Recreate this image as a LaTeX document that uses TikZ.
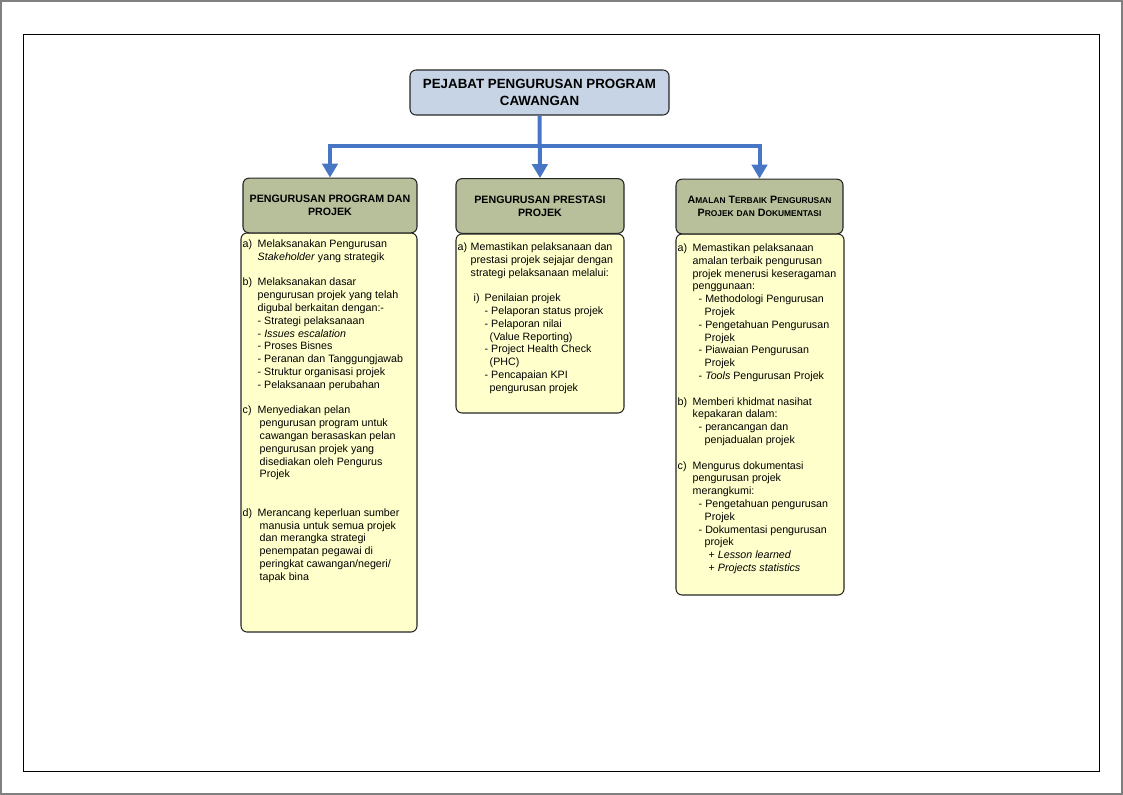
\documentclass[tikz,border=0pt]{standalone}
\usepackage{fontspec}
\setmainfont{Liberation Sans}
\usetikzlibrary{arrows.meta}
\definecolor{topblue}{RGB}{198,212,229}
\definecolor{headgreen}{RGB}{183,192,155}
\definecolor{bodyyellow}{RGB}{255,255,204}
\definecolor{arrowblue}{RGB}{71,119,196}
\newlength\pix
\setlength\pix{0.75pt}
\newcommand\lbl[2]{\makebox[#1\pix][l]{#2}}
\newcommand\ind[1]{\hspace*{#1\pix}}
\newcommand\fsc[2]{#1{\fontsize{6.3}{9.5}\selectfont #2}}

\begin{document}
\begin{tikzpicture}[x=0.75pt,y=-0.75pt,
  >={Triangle[length=10.5pt,width=11.5pt]},
  box/.style={draw=black!85, line width=0.8pt, rounded corners=4.5pt, inner sep=0pt},
  topbox/.style={box, fill=topblue, minimum width=194.25pt, minimum height=33.75pt,
    align=center, font=\bfseries\fontsize{10}{12.75}\selectfont},
  headbox/.style={box, fill=headgreen, minimum height=41pt,
    align=center, font=\bfseries\fontsize{8}{9.5}\selectfont},
  bodybox/.style={box, fill=bodyyellow},
  bodytext/.style={anchor=north west, inner sep=0pt, align=left,
    font=\fontsize{8}{9.6}\selectfont},
  conn/.style={arrowblue, line width=3pt}]
\useasboundingbox (0,0) rectangle (1123,795);
% frames
\draw [gray, line width=1.5pt] (1,1) rectangle (1121.5,793.5);
\draw [black, line width=0.75pt] (23.5,34.5) rectangle (1099.5,771);

% top
\node [topbox] (pejabat) at (539.5,92.5) {PEJABAT PENGURUSAN PROGRAM\\CAWANGAN};

% bodies first, headers over them
\node [bodybox, minimum width=132pt, minimum height=299.25pt] (body1) at (329,432.5) {};
\node [bodybox, minimum width=126pt, minimum height=134.25pt] (body2) at (540,323.5) {};
\node [bodybox, minimum width=126pt, minimum height=270.75pt] (body3) at (760,414.5) {};

\node [headbox, minimum width=130.5pt] (head1) at (330,205.5) {PENGURUSAN PROGRAM DAN\\PROJEK};
\node [headbox, minimum width=126pt] (head2) at (540,206) {PENGURUSAN PRESTASI\\PROJEK};
\node [headbox, minimum width=125.25pt] (head3) at (759.5,206.5)
  {\fsc{A}{MALAN} \fsc{T}{ERBAIK} \fsc{P}{ENGURUSAN}\\\fsc{P}{ROJEK} {\fontsize{6.3}{9.5}\selectfont DAN} \fsc{D}{OKUMENTASI}};

% connectors
\coordinate (split) at (540,146);
\draw [conn, ->] (pejabat.south) -- (head2.north);
\draw [conn, <->] (head1.north) -- (head1.north |- split) -- (head3.north |- split) -- (head3.north);

% texts
\node [bodytext] (text1) at ([shift={(2,7)}]body1.north west) {%
\lbl{15}{a)}Melaksanakan Pengurusan\\
\ind{15}\textit{Stakeholder} yang strategik\\[9.6pt]
\lbl{15}{b)}Melaksanakan dasar\\
\ind{15}pengurusan projek yang telah\\
\ind{15}digubal berkaitan dengan:-\\
\ind{15}- Strategi pelaksanaan\\
\ind{15}- \textit{Issues escalation}\\
\ind{15}- Proses Bisnes\\
\ind{15}- Peranan dan Tanggungjawab\\
\ind{15}- Struktur organisasi projek\\
\ind{15}- Pelaksanaan perubahan\\[9.6pt]
\lbl{15}{c)}Menyediakan pelan\\
\ind{17}pengurusan program untuk\\
\ind{17}cawangan berasaskan pelan\\
\ind{17}pengurusan projek yang\\
\ind{17}disediakan oleh Pengurus\\
\ind{17}Projek\\[19.2pt]
\lbl{15}{d)}Merancang keperluan sumber\\
\ind{17}manusia untuk semua projek\\
\ind{17}dan merangka strategi\\
\ind{17}penempatan pegawai di\\
\ind{17}peringkat cawangan/negeri/\\
\ind{17}tapak bina};

\node [bodytext] (text2) at ([shift={(2,9)}]body2.north west) {%
\lbl{13}{a)}Memastikan pelaksanaan dan\\
\ind{13}prestasi projek sejajar dengan\\
\ind{13}strategi pelaksanaan melalui:\\[9.6pt]
\ind{16}\lbl{11}{i)}Penilaian projek\\
\ind{27}- Pelaporan status projek\\
\ind{27}- Pelaporan nilai\\
\ind{32}(Value Reporting)\\
\ind{27}- Project Health Check\\
\ind{32}(PHC)\\
\ind{27}- Pencapaian KPI\\
\ind{32}pengurusan projek};

\node [bodytext] (text3) at ([shift={(2,10)}]body3.north west) {%
\lbl{15}{a)}Memastikan pelaksanaan\\
\ind{15}amalan terbaik pengurusan\\
\ind{15}projek menerusi keseragaman\\
\ind{15}penggunaan:\\
\ind{21}- Methodologi Pengurusan\\
\ind{27}Projek\\
\ind{21}- Pengetahuan Pengurusan\\
\ind{27}Projek\\
\ind{21}- Piawaian Pengurusan\\
\ind{27}Projek\\
\ind{21}- \textit{Tools} Pengurusan Projek\\[9.6pt]
\lbl{15}{b)}Memberi khidmat nasihat\\
\ind{15}kepakaran dalam:\\
\ind{21}- perancangan dan\\
\ind{27}penjadualan projek\\[9.6pt]
\lbl{15}{c)}Mengurus dokumentasi\\
\ind{15}pengurusan projek\\
\ind{15}merangkumi:\\
\ind{21}- Pengetahuan pengurusan\\
\ind{27}Projek\\
\ind{21}- Dokumentasi pengurusan\\
\ind{27}projek\\
\ind{31}+ \textit{Lesson learned}\\
\ind{31}+ \textit{Projects statistics}};
\end{tikzpicture}
\end{document}
